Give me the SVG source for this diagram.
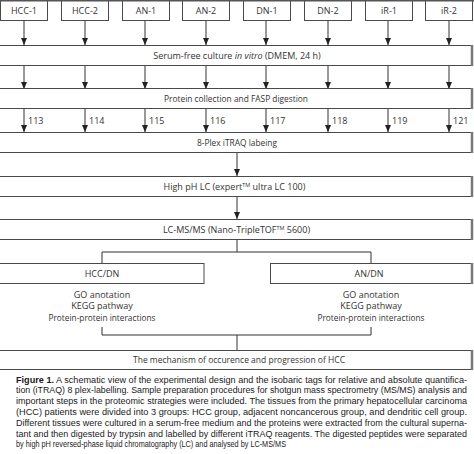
<svg xmlns="http://www.w3.org/2000/svg" width="474" height="454" viewBox="0 0 474 454">
<defs>
<style>
.b{fill:#fff;stroke:#4a4a4a;stroke-width:1}
.sh{stroke:#777;stroke-width:2.5}
.t{font-family:"Open Sans","Liberation Sans",sans-serif;font-size:9px;fill:#333;text-anchor:middle}
.n{font-family:"Open Sans","Liberation Sans",sans-serif;font-size:9px;fill:#333}
.c{font-family:"Liberation Sans",Arial,sans-serif;font-size:8.5px;fill:#1a1a1a}
.l{stroke:#333;stroke-width:1;fill:none}
</style>
<marker id="av" viewBox="0 0 6 7" refX="3" refY="7" markerWidth="6" markerHeight="7" markerUnits="userSpaceOnUse">
<path d="M0,0 L6,0 L3,7 Z" fill="#222"/>
</marker>
</defs>

<g id="connectors">
<g stroke="#333" stroke-width="1" fill="none" marker-end="url(#av)">
<path d="M24,20 V45"/><path d="M85,20 V45"/><path d="M145,20 V45"/><path d="M206,20 V45"/>
<path d="M266,20 V45"/><path d="M328,20 V45"/><path d="M388,20 V45"/><path d="M449,20 V45"/>
<path d="M24,65 V89"/><path d="M85,65 V89"/><path d="M145,65 V89"/><path d="M206,65 V89"/>
<path d="M266,65 V89"/><path d="M328,65 V89"/><path d="M388,65 V89"/><path d="M449,65 V89"/>
<path d="M24,108 V132"/><path d="M85,108 V132"/><path d="M145,108 V132"/><path d="M206,108 V132"/>
<path d="M266,108 V132"/><path d="M328,108 V132"/><path d="M388,108 V132"/><path d="M449,108 V132"/>
<path d="M237,152 V176"/>
<path d="M237,196 V219"/>
</g>
<path class="l" d="M237,239 V252 M102,252 H371 M102,252 V263 M371,252 V263"/>
<path class="l" d="M102,327 V335 H371 V327 M237,335 V350"/>
<g class="n">
<text x="28" y="124">113</text><text x="89" y="124">114</text><text x="149" y="124">115</text><text x="210" y="124">116</text>
<text x="270" y="124">117</text><text x="332" y="124">118</text><text x="392" y="124">119</text><text x="453" y="124">121</text>
</g>
</g>

<g id="n-hcc1"><rect class="b" x="0.5" y="0.5" width="47" height="20"/><text class="t" x="24" y="14">HCC-1</text></g>
<g id="n-hcc2"><rect class="b" x="61.5" y="0.5" width="47" height="20"/><text class="t" x="85" y="14">HCC-2</text></g>
<g id="n-an1"><rect class="b" x="122.5" y="0.5" width="47" height="20"/><text class="t" x="146" y="14">AN-1</text></g>
<g id="n-an2"><rect class="b" x="182.5" y="0.5" width="47" height="20"/><text class="t" x="206" y="14">AN-2</text></g>
<g id="n-dn1"><rect class="b" x="243.5" y="0.5" width="47" height="20"/><text class="t" x="267" y="14">DN-1</text></g>
<g id="n-dn2"><rect class="b" x="304.5" y="0.5" width="47" height="20"/><text class="t" x="328" y="14">DN-2</text></g>
<g id="n-ir1"><rect class="b" x="365.5" y="0.5" width="47" height="20"/><text class="t" x="389" y="14">iR-1</text></g>
<g id="n-ir2"><rect class="b" x="425.5" y="0.5" width="47" height="20"/><text class="t" x="449" y="14">iR-2</text></g>
<line x1="0" y1="0.8" x2="474" y2="0.8" stroke="#555" stroke-width="1.6"/>

<g id="n-serum"><rect class="b" x="-2" y="45.5" width="473.5" height="20"/><line class="sh" x1="472" y1="45" x2="472" y2="66"/>
<text class="t" x="237" y="58.5" font-size="8.6">Serum-free culture <tspan font-style="italic">in vitro</tspan> (DMEM, 24 h)</text></g>
<g id="n-protein"><rect class="b" x="-2" y="88.5" width="473.5" height="20"/><line class="sh" x1="472" y1="88" x2="472" y2="109"/>
<text class="t" x="236" y="101.5" textLength="144" lengthAdjust="spacingAndGlyphs">Protein collection and FASP digestion</text></g>
<g id="n-itraq"><rect class="b" x="-2" y="132.5" width="473.5" height="20"/><line class="sh" x1="472" y1="132" x2="472" y2="153"/>
<text class="t" x="237" y="145.5" textLength="80" lengthAdjust="spacingAndGlyphs">8-Plex iTRAQ labeing</text></g>
<g id="n-hph"><rect class="b" x="-2" y="176.5" width="473.5" height="20"/><line class="sh" x1="472" y1="176" x2="472" y2="197"/>
<text class="t" x="234.5" y="189.5" font-size="8.6">High pH LC (expert<tspan font-size="5.5" dy="-3">TM</tspan><tspan dy="3"> ultra LC 100)</tspan></text></g>
<g id="n-lcms"><rect class="b" x="-2" y="219.5" width="473.5" height="20"/><line class="sh" x1="472" y1="219" x2="472" y2="240"/>
<text class="t" x="236.5" y="232.5" font-size="8.6">LC-MS/MS (Nano-TripleTOF<tspan font-size="5.5" dy="-3">TM</tspan><tspan dy="3"> 5600)</tspan></text></g>
<g id="n-hccdn"><rect class="b" x="-2" y="263.5" width="206" height="20"/>
<text class="t" x="102" y="276.5">HCC/DN</text>
<text class="t" x="102" y="297.5">GO anotation</text><text class="t" x="102" y="309">KEGG pathway</text><text class="t" x="102" y="320.5" textLength="107" lengthAdjust="spacingAndGlyphs">Protein-protein interactions</text></g>
<g id="n-andn"><rect class="b" x="270.5" y="263.5" width="201" height="20"/><line class="sh" x1="472" y1="263" x2="472" y2="284"/>
<text class="t" x="369" y="276.5">AN/DN</text>
<text class="t" x="371" y="297.5">GO anotation</text><text class="t" x="371" y="309">KEGG pathway</text><text class="t" x="371" y="320.5" textLength="107" lengthAdjust="spacingAndGlyphs">Protein-protein interactions</text></g>
<g id="n-mech"><rect class="b" x="-2" y="350.5" width="473.5" height="19"/><line class="sh" x1="472" y1="350" x2="472" y2="370"/>
<text class="t" x="239" y="363" textLength="212" lengthAdjust="spacingAndGlyphs">The mechanism of occurence and progression of HCC</text></g>

<g id="caption" class="c">
<text x="16" y="382.5" textLength="451" lengthAdjust="spacingAndGlyphs"><tspan font-weight="bold">Figure 1.</tspan> A schematic view of the experimental design and the isobaric tags for relative and absolute quantifica-</text>
<text x="16" y="393.3" textLength="451" lengthAdjust="spacingAndGlyphs">tion (iTRAQ) 8 plex-labelling. Sample preparation procedures for shotgun mass spectrometry (MS/MS) analysis and</text>
<text x="16" y="404.1" textLength="451" lengthAdjust="spacingAndGlyphs">important steps in the proteomic strategies were included. The tissues from the primary hepatocellular carcinoma</text>
<text x="16" y="414.9" textLength="451" lengthAdjust="spacingAndGlyphs">(HCC) patients were divided into 3 groups: HCC group, adjacent noncancerous group, and dendritic cell group.</text>
<text x="16" y="425.7" textLength="451" lengthAdjust="spacingAndGlyphs">Different tissues were cultured in a serum-free medium and the proteins were extracted from the cultural superna-</text>
<text x="16" y="436.5" textLength="451" lengthAdjust="spacingAndGlyphs">tant and then digested by trypsin and labelled by different iTRAQ reagents. The digested peptides were separated</text>
<text x="16" y="447.3" textLength="270" lengthAdjust="spacingAndGlyphs">by high pH reversed-phase liquid chromatography (LC) and analysed by LC-MS/MS</text>
</g>
</svg>
